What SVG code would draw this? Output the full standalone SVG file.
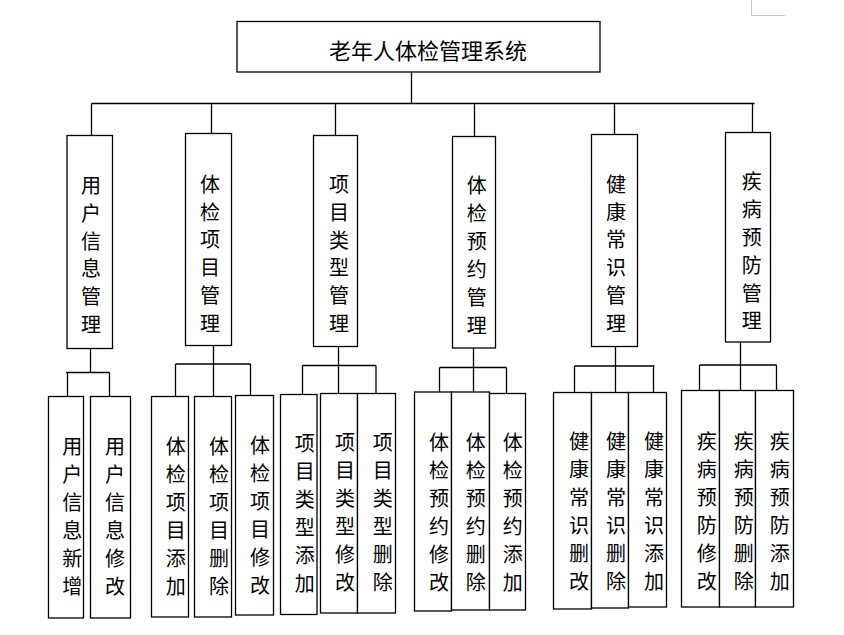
<svg xmlns="http://www.w3.org/2000/svg" width="844" height="635" viewBox="0 0 844 635">
<style>
.box{fill:#fff;stroke:#000;stroke-width:1.3}
.ln{fill:none;stroke:#000;stroke-width:1.3}
.t{font-family:"Noto Sans CJK SC","Noto Sans",sans-serif;font-size:20px;fill:#000;text-anchor:middle}
.tt{font-family:"Noto Sans CJK SC","Noto Sans",sans-serif;font-size:22px;fill:#000}
</style>
<rect width="844" height="635" fill="#fff"/>
<path d="M751.5 0V15.5H785" fill="none" stroke="#c8c8c8" stroke-width="1"/>
<g id="connectors" class="ln">
<path d="M411.5 72V103.5M91.5 103.5H754.5M91.5 103.5V135M211.5 103.5V133M335.5 103.5V135M474.5 103.5V136M614.5 103.5V134M752.5 103.5V132"/>
<path d="M90.5 348V372.5M66 372.5H109.5M67.5 372.5V396M109.5 372.5V396"/>
<path d="M213.5 345V396M175.5 364H250.5M175.5 364V396M250.5 364V395"/>
<path d="M338.5 346V393M302.5 365.5H376M302.5 365.5V394M376 365.5V393"/>
<path d="M473.5 348V392M439.5 367.5H506.5M439.5 367.5V392M506.5 367.5V393"/>
<path d="M615.5 346V392M574.5 366H654.5M574.5 366V392M653.5 366V392"/>
<path d="M740.5 342V390M699.5 365H776.5M699.5 365V390M776.5 365V390"/>
</g>
<g id="root"><rect class="box" x="237" y="21.5" width="363" height="50.5"/><text class="tt" x="329" y="59">老年人体检管理系统</text></g>
<g id="n1"><rect class="box" x="67" y="135.5" width="45.5" height="213"/><text class="t" y="193"><tspan x="91" dy="0">用</tspan><tspan x="91" dy="27.8">户</tspan><tspan x="91" dy="27.8">信</tspan><tspan x="91" dy="27.8">息</tspan><tspan x="91" dy="27.8">管</tspan><tspan x="91" dy="27.8">理</tspan></text></g>
<g id="n2"><rect class="box" x="185.5" y="133.5" width="46" height="212"/><text class="t" y="192"><tspan x="210" dy="0">体</tspan><tspan x="210" dy="27.7">检</tspan><tspan x="210" dy="27.7">项</tspan><tspan x="210" dy="27.7">目</tspan><tspan x="210" dy="27.7">管</tspan><tspan x="210" dy="27.7">理</tspan></text></g>
<g id="n3"><rect class="box" x="313.5" y="135.5" width="44" height="211"/><text class="t" y="192"><tspan x="339" dy="0">项</tspan><tspan x="339" dy="27.8">目</tspan><tspan x="339" dy="27.8">类</tspan><tspan x="339" dy="27.8">型</tspan><tspan x="339" dy="27.8">管</tspan><tspan x="339" dy="27.8">理</tspan></text></g>
<g id="n4"><rect class="box" x="452.5" y="136.5" width="43" height="211.5"/><text class="t" y="193.3"><tspan x="476.7" dy="0">体</tspan><tspan x="476.7" dy="28">检</tspan><tspan x="476.7" dy="28">预</tspan><tspan x="476.7" dy="28">约</tspan><tspan x="476.7" dy="28">管</tspan><tspan x="476.7" dy="28">理</tspan></text></g>
<g id="n5"><rect class="box" x="591.5" y="134.5" width="46" height="212"/><text class="t" y="192"><tspan x="616" dy="0">健</tspan><tspan x="616" dy="27.7">康</tspan><tspan x="616" dy="27.7">常</tspan><tspan x="616" dy="27.7">识</tspan><tspan x="616" dy="27.7">管</tspan><tspan x="616" dy="27.7">理</tspan></text></g>
<g id="n6"><rect class="box" x="725.5" y="132.5" width="45" height="209.5"/><text class="t" y="189.3"><tspan x="751.7" dy="0">疾</tspan><tspan x="751.7" dy="27.8">病</tspan><tspan x="751.7" dy="27.8">预</tspan><tspan x="751.7" dy="27.8">防</tspan><tspan x="751.7" dy="27.8">管</tspan><tspan x="751.7" dy="27.8">理</tspan></text></g>
<g id="n1a"><rect class="box" x="48.5" y="396.5" width="35" height="221.5"/><text class="t" y="453.6"><tspan x="72.3" dy="0">用</tspan><tspan x="72.3" dy="28">户</tspan><tspan x="72.3" dy="28">信</tspan><tspan x="72.3" dy="28">息</tspan><tspan x="72.3" dy="28">新</tspan><tspan x="72.3" dy="28">增</tspan></text></g>
<g id="n1b"><rect class="box" x="90.5" y="396.5" width="40" height="221.5"/><text class="t" y="453.6"><tspan x="115" dy="0">用</tspan><tspan x="115" dy="28">户</tspan><tspan x="115" dy="28">信</tspan><tspan x="115" dy="28">息</tspan><tspan x="115" dy="28">修</tspan><tspan x="115" dy="28">改</tspan></text></g>
<g id="n2a"><rect class="box" x="151.5" y="396.5" width="37" height="220.5"/><text class="t" y="453.6"><tspan x="175.7" dy="0">体</tspan><tspan x="175.7" dy="28">检</tspan><tspan x="175.7" dy="28">项</tspan><tspan x="175.7" dy="28">目</tspan><tspan x="175.7" dy="28">添</tspan><tspan x="175.7" dy="28">加</tspan></text></g>
<g id="n2b"><rect class="box" x="194.5" y="396.5" width="37" height="220.5"/><text class="t" y="453.6"><tspan x="219" dy="0">体</tspan><tspan x="219" dy="28">检</tspan><tspan x="219" dy="28">项</tspan><tspan x="219" dy="28">目</tspan><tspan x="219" dy="28">删</tspan><tspan x="219" dy="28">除</tspan></text></g>
<g id="n2c"><rect class="box" x="235.5" y="395.5" width="38" height="219.5"/><text class="t" y="452.6"><tspan x="260" dy="0">体</tspan><tspan x="260" dy="28">检</tspan><tspan x="260" dy="28">项</tspan><tspan x="260" dy="28">目</tspan><tspan x="260" dy="28">修</tspan><tspan x="260" dy="28">改</tspan></text></g>
<g id="n3a"><rect class="box" x="280.5" y="394.5" width="36.5" height="220"/><text class="t" y="451"><tspan x="304.7" dy="0">项</tspan><tspan x="304.7" dy="28">目</tspan><tspan x="304.7" dy="28">类</tspan><tspan x="304.7" dy="28">型</tspan><tspan x="304.7" dy="28">添</tspan><tspan x="304.7" dy="28">加</tspan></text></g>
<g id="n3b"><rect class="box" x="320.5" y="393.5" width="37" height="219.5"/><text class="t" y="450.3"><tspan x="345" dy="0">项</tspan><tspan x="345" dy="28">目</tspan><tspan x="345" dy="28">类</tspan><tspan x="345" dy="28">型</tspan><tspan x="345" dy="28">修</tspan><tspan x="345" dy="28">改</tspan></text></g>
<g id="n3c"><rect class="box" x="357.5" y="393.5" width="38" height="219.5"/><text class="t" y="450.3"><tspan x="382.7" dy="0">项</tspan><tspan x="382.7" dy="28">目</tspan><tspan x="382.7" dy="28">类</tspan><tspan x="382.7" dy="28">型</tspan><tspan x="382.7" dy="28">删</tspan><tspan x="382.7" dy="28">除</tspan></text></g>
<g id="n4a"><rect class="box" x="414.5" y="392" width="37" height="219"/><text class="t" y="450.3"><tspan x="439" dy="0">体</tspan><tspan x="439" dy="28">检</tspan><tspan x="439" dy="28">预</tspan><tspan x="439" dy="28">约</tspan><tspan x="439" dy="28">修</tspan><tspan x="439" dy="28">改</tspan></text></g>
<g id="n4b"><rect class="box" x="451.5" y="392" width="38" height="218"/><text class="t" y="450.3"><tspan x="475.7" dy="0">体</tspan><tspan x="475.7" dy="28">检</tspan><tspan x="475.7" dy="28">预</tspan><tspan x="475.7" dy="28">约</tspan><tspan x="475.7" dy="28">删</tspan><tspan x="475.7" dy="28">除</tspan></text></g>
<g id="n4c"><rect class="box" x="489.5" y="393.5" width="36" height="216.5"/><text class="t" y="450.3"><tspan x="512.7" dy="0">体</tspan><tspan x="512.7" dy="28">检</tspan><tspan x="512.7" dy="28">预</tspan><tspan x="512.7" dy="28">约</tspan><tspan x="512.7" dy="28">添</tspan><tspan x="512.7" dy="28">加</tspan></text></g>
<g id="n5a"><rect class="box" x="553.5" y="392.5" width="38" height="216.5"/><text class="t" y="449.3"><tspan x="579" dy="0">健</tspan><tspan x="579" dy="28">康</tspan><tspan x="579" dy="28">常</tspan><tspan x="579" dy="28">识</tspan><tspan x="579" dy="28">删</tspan><tspan x="579" dy="28">改</tspan></text></g>
<g id="n5b"><rect class="box" x="591.5" y="392.5" width="37" height="215.5"/><text class="t" y="449.3"><tspan x="616" dy="0">健</tspan><tspan x="616" dy="28">康</tspan><tspan x="616" dy="28">常</tspan><tspan x="616" dy="28">识</tspan><tspan x="616" dy="28">删</tspan><tspan x="616" dy="28">除</tspan></text></g>
<g id="n5c"><rect class="box" x="628.5" y="392.5" width="38" height="214.5"/><text class="t" y="449.3"><tspan x="654" dy="0">健</tspan><tspan x="654" dy="28">康</tspan><tspan x="654" dy="28">常</tspan><tspan x="654" dy="28">识</tspan><tspan x="654" dy="28">添</tspan><tspan x="654" dy="28">加</tspan></text></g>
<g id="n6a"><rect class="box" x="681.5" y="390.5" width="38" height="216.5"/><text class="t" y="448.6"><tspan x="706.7" dy="0">疾</tspan><tspan x="706.7" dy="28">病</tspan><tspan x="706.7" dy="28">预</tspan><tspan x="706.7" dy="28">防</tspan><tspan x="706.7" dy="28">修</tspan><tspan x="706.7" dy="28">改</tspan></text></g>
<g id="n6b"><rect class="box" x="719.5" y="390.5" width="36" height="216.5"/><text class="t" y="448.6"><tspan x="743.7" dy="0">疾</tspan><tspan x="743.7" dy="28">病</tspan><tspan x="743.7" dy="28">预</tspan><tspan x="743.7" dy="28">防</tspan><tspan x="743.7" dy="28">删</tspan><tspan x="743.7" dy="28">除</tspan></text></g>
<g id="n6c"><rect class="box" x="755.5" y="390.5" width="38" height="216.5"/><text class="t" y="448.6"><tspan x="779.7" dy="0">疾</tspan><tspan x="779.7" dy="28">病</tspan><tspan x="779.7" dy="28">预</tspan><tspan x="779.7" dy="28">防</tspan><tspan x="779.7" dy="28">添</tspan><tspan x="779.7" dy="28">加</tspan></text></g>
</svg>
